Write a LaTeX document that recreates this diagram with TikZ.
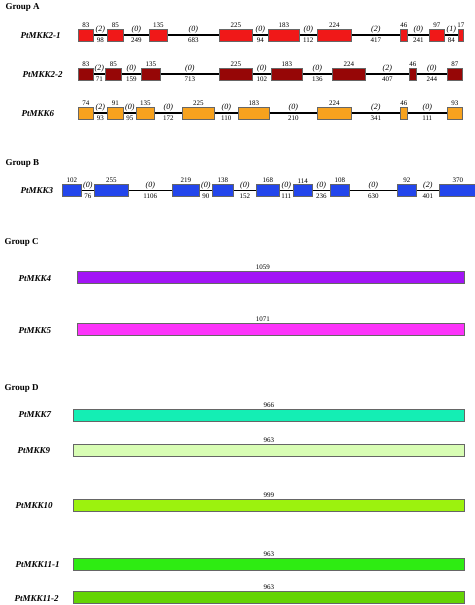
\documentclass[tikz,border=0pt]{standalone}
\usepackage{fontspec}
\setmainfont{Liberation Serif}
\usetikzlibrary{positioning}
\definecolor{exred}{HTML}{F01818}
\definecolor{exdark}{HTML}{960606}
\definecolor{exorange}{HTML}{F7A21E}
\definecolor{exblue}{HTML}{2346EC}
\definecolor{mkkpurple}{HTML}{A214F5}
\definecolor{mkkpink}{HTML}{FC34FA}
\definecolor{mkkteal}{HTML}{14EEB4}
\definecolor{mkkpale}{HTML}{D8FDB4}
\definecolor{mkklime}{HTML}{9CF20E}
\definecolor{mkkgreen}{HTML}{2EEC12}
\definecolor{mkkolive}{HTML}{64D404}

\begin{document}
\begin{tikzpicture}[x=1pt,y=-1pt,
  exon/.style={draw=black!60,line width=0.5pt,inner sep=0pt,minimum height=12pt,anchor=west},
  intron/.style={line width=1.4pt},
  lenlab/.style={font=\fontsize{7}{8}\selectfont,inner sep=1pt},
  phaselab/.style={font=\fontsize{8}{9}\selectfont\itshape,inner sep=1pt},
  genename/.style={font=\fontsize{9}{10}\selectfont\bfseries\itshape,anchor=west},
  grouptitle/.style={font=\fontsize{9}{10}\selectfont\bfseries,anchor=west}]
  \useasboundingbox (0,0) rectangle (474,605);

  % group A
  \node[grouptitle] (ga) at (2,7) {Group A};
  \node[genename] (n21) at (17,36) {PtMKK2-1};
  \node[genename] (n22) at (19,75) {PtMKK2-2};
  \node[genename] (n6) at (18,114) {PtMKK6};
  \foreach \a/\b/\l [count=\i] in {78/93/83,107/123/85,149/167/135,219/252/225,268/299/183,317/351/224,400/407/46,429/444/97,458/463/17}
    \node[exon,fill=exred,minimum width={(\b-\a)*1pt},label={[lenlab]above:\l}] (a1e\i) at (\a,35) {};
  \foreach \p/\l [count=\i] in {2/98,0/249,0/683,0/94,0/112,2/417,0/241,1/84} {
    \pgfmathtruncatemacro\j{\i+1}
    \draw[intron] (a1e\i.east) -- node[phaselab,above]{(\p)} node[lenlab,below=1.5pt]{\l} (a1e\j.west);
  }
  \foreach \a/\b/\l [count=\i] in {78/93/83,105/121/85,141/160/135,219/252/225,271/302/183,332/365/224,409/416/46,447/462/87}
    \node[exon,fill=exdark,minimum width={(\b-\a)*1pt},label={[lenlab]above:\l}] (a2e\i) at (\a,74) {};
  \foreach \p/\l [count=\i] in {2/71,0/159,0/713,0/102,0/136,2/407,0/244} {
    \pgfmathtruncatemacro\j{\i+1}
    \draw[intron] (a2e\i.east) -- node[phaselab,above]{(\p)} node[lenlab,below=1.5pt]{\l} (a2e\j.west);
  }
  \foreach \a/\b/\l [count=\i] in {78/93/74,107/123/91,136/154/135,182/214/225,238/269/183,317/351/224,400/407/46,447/462/93}
    \node[exon,fill=exorange,minimum width={(\b-\a)*1pt},label={[lenlab]above:\l}] (a3e\i) at (\a,113) {};
  \foreach \p/\l [count=\i] in {2/93,0/95,0/172,0/110,0/210,2/341,0/111} {
    \pgfmathtruncatemacro\j{\i+1}
    \draw[intron] (a3e\i.east) -- node[phaselab,above]{(\p)} node[lenlab,below=1.5pt]{\l} (a3e\j.west);
  }

  % group B
  \node[grouptitle] (gb) at (2,163) {Group B};
  \node[genename] (n3) at (17,191) {PtMKK3};
  \foreach \a/\b/\l [count=\i] in {62/81/102,94/128/255,172/199/219,212/233/138,256/279/168,293/312/114,330/349/108,397/416/92,439/476/370}
    \node[exon,fill=exblue,minimum width={(\b-\a)*1pt},label={[lenlab]above:\l}] (be\i) at (\a,190.5) {};
  \foreach \p/\l [count=\i] in {0/76,0/1106,0/90,0/152,0/111,0/236,0/630,2/401} {
    \pgfmathtruncatemacro\j{\i+1}
    \draw[intron] (be\i.east) -- node[phaselab,above]{(\p)} node[lenlab,below=1.5pt]{\l} (be\j.west);
  }

  % group C
  \node[grouptitle] (gc) at (1,242) {Group C};
  \node[genename] (n4) at (15,279) {PtMKK4};
  \node[genename] (n5) at (15,331) {PtMKK5};
  \node[exon,fill=mkkpurple,minimum width=387pt,label={[lenlab,xshift=-8pt]above:1059}] (mkk4) at (77,277.5) {};
  \node[exon,fill=mkkpink,minimum width=387pt,label={[lenlab,xshift=-8pt]above:1071}] (mkk5) at (77,329.5) {};

  % group D
  \node[grouptitle] (gd) at (1,388) {Group D};
  \node[genename] (n7) at (15,415) {PtMKK7};
  \node[genename] (n9) at (14,451) {PtMKK9};
  \node[genename] (n10) at (12,506) {PtMKK10};
  \node[genename] (n111) at (12,565) {PtMKK11-1};
  \node[genename] (n112) at (11,599) {PtMKK11-2};
  \node[exon,fill=mkkteal,minimum width=391pt,label={[lenlab]above:966}] (mkk7) at (73,415) {};
  \node[exon,fill=mkkpale,minimum width=391pt,label={[lenlab]above:963}] (mkk9) at (73,450) {};
  \node[exon,fill=mkklime,minimum width=391pt,label={[lenlab]above:999}] (mkk10) at (73,505) {};
  \node[exon,fill=mkkgreen,minimum width=391pt,label={[lenlab]above:963}] (mkk111) at (73,564) {};
  \node[exon,fill=mkkolive,minimum width=391pt,label={[lenlab]above:963}] (mkk112) at (73,597.5) {};
\end{tikzpicture}
\end{document}
